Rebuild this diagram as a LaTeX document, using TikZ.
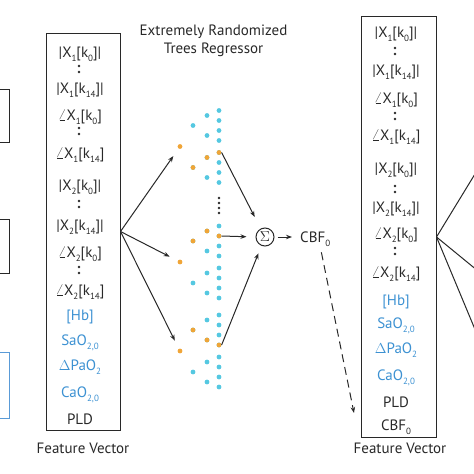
\documentclass[tikz,border=0pt]{standalone}
\usepackage{fontspec}
\setmainfont{PT Sans}
\usetikzlibrary{arrows.meta,calc,positioning}

\definecolor{inkgray}{RGB}{40,40,40}
\definecolor{fvblue}{RGB}{60,145,210}
\definecolor{boxblue}{RGB}{90,155,215}
\definecolor{leafcyan}{RGB}{85,200,225}
\definecolor{leaforange}{RGB}{240,165,55}

\newcommand{\fvsub}[1]{\raisebox{-0.55ex}{\fontsize{9}{9}\selectfont #1}}
\newcommand{\fvmag}[2]{|X\fvsub{#1}[k\fvsub{#2}]|}
\newcommand{\fvang}[2]{$\angle$X\fvsub{#1}[k\fvsub{#2}]}

\tikzset{
  fvbox/.style={draw=inkgray,line width=1pt,inner sep=0pt},
  fvitem/.style={font=\fontsize{15}{17}\selectfont,text=inkgray,anchor=base,inner sep=0pt},
  fvextra/.style={fvitem,text=fvblue},
  leaf/.style={circle,fill=leafcyan,inner sep=0pt,minimum size=4.8pt},
  hot/.style={leaf,fill=leaforange},
  flow/.style={-{Stealth[length=6pt,width=4.5pt]},line width=1pt,draw=inkgray}
}

\begin{document}
\begin{tikzpicture}[x=1pt,y=-1pt]
  \useasboundingbox (0,0) rectangle (474,474);
  \clip (0,0) rectangle (474,474);

  % cut-off boxes of the previous stage
  \draw[inkgray,line width=1pt] (-20,89) rectangle (9,142);
  \draw[inkgray,line width=1pt] (-20,219) rectangle (9,273);
  \draw[boxblue,line width=1pt] (-20,352) rectangle (9,418);

  % input feature vector
  \node[fvbox,minimum width=74pt,minimum height=397pt] (fv1) at (83,231.5) {};
  \foreach \y/\st/\txt [count=\i] in {57/fvitem/{\fvmag{1}{0}}, 93/fvitem/{\fvmag{1}{14}},
      120/fvitem/{\fvang{1}{0}}, 158/fvitem/{\fvang{1}{14}},
      190/fvitem/{\fvmag{2}{0}}, 230/fvitem/{\fvmag{2}{14}},
      257/fvitem/{\fvang{2}{0}}, 295/fvitem/{\fvang{2}{14}},
      320/fvextra/{[Hb]}, 345/fvextra/{SaO\fvsub{2,0}},
      370/fvextra/{$\Delta$PaO\fvsub{2}}, 397/fvextra/{CaO\fvsub{2,0}},
      424/fvitem/{PLD}}
    \node[\st] (in\i) at (80,\y) {\txt};
  \foreach \y in {69,131,204,270}
    \fill[inkgray] (79,\y-3) circle (1.4pt) (79,\y+3) circle (1.4pt);
  \node[fvitem] (in-lab) at (83,453) {Feature Vector};

  \node[font=\fontsize{15}{18}\selectfont,text=inkgray,align=center] (etr)
    at (213.5,41) {Extremely Randomized\\Trees Regressor};

  % trees: name/root y/child/grandchild/leaf of the orange path
  \foreach \t/\yo/\c/\g/\l in {a/146.5/21/-10/-5, b/262/-21/-10/5, c/351/-21/10/5}{
    \foreach \s in {-21,21}{
      \node[leaf] at (193,{\yo+(\s)}) {};
      \foreach \u in {-10,10}{
        \node[leaf] at (207,{\yo+(\s)+(\u)}) {};
        \foreach \v in {-5,5}
          \node[leaf] at (219,{\yo+(\s)+(\u)+(\v)}) {};
      }
    }
    \node[hot] (\t0) at (180,\yo) {};
    \node[hot] (\t1) at (193,{\yo+(\c)}) {};
    \node[hot] (\t2) at (207,{\yo+(\c)+(\g)}) {};
    \node[hot] (\t-out) at (219,{\yo+(\c)+(\g)+(\l)}) {};
  }
  \foreach \y in {198,203,208,213}
    \fill[inkgray] (219,\y) circle (1.3pt);

  \foreach \t in {a,b,c}
    \draw[flow,shorten >=9pt] (fv1.east) -- (\t0);

  \node[draw=inkgray,line width=1pt,circle,minimum size=18pt,inner sep=0pt,
    font=\fontsize{14}{14}\selectfont,text=inkgray] (sum) at (265,237) {$\Sigma$};
  \draw[flow,shorten >=13pt] (a-out.east) -- (sum);
  \draw[flow,shorten >=9pt] (b-out.east) -- (sum.west);
  \draw[flow,shorten >=8pt] (c-out.east) -- (sum);

  \node[fvitem,anchor=base west] (cbf) at (300,242) {CBF\fvsub{0}};
  \draw[flow,shorten <=3pt,shorten >=8pt] (sum.east) -- (sum.east -| cbf.west);

  % output feature vector
  \node[fvbox,minimum width=75pt,minimum height=421pt] (fv2) at (398.5,226.5) {};
  \foreach \y/\st/\txt [count=\i] in {37/fvitem/{\fvmag{1}{0}}, 75/fvitem/{\fvmag{1}{14}},
      103/fvitem/{\fvang{1}{0}}, 140/fvitem/{\fvang{1}{14}},
      173/fvitem/{\fvmag{2}{0}}, 212/fvitem/{\fvmag{2}{14}},
      238/fvitem/{\fvang{2}{0}}, 277/fvitem/{\fvang{2}{14}},
      305/fvextra/{[Hb]}, 328/fvextra/{SaO\fvsub{2,0}},
      353/fvextra/{$\Delta$PaO\fvsub{2}}, 380/fvextra/{CaO\fvsub{2,0}},
      407/fvitem/{PLD}, 430/fvitem/{CBF\fvsub{0}}}
    \node[\st] (out\i) at (396,\y) {\txt};
  \foreach \y in {51,116,189,251}
    \fill[inkgray] (395,\y-3) circle (1.4pt) (395,\y+3) circle (1.4pt);
  \node[fvitem] (out-lab) at (400,453) {Feature Vector};

  \coordinate (cbfin) at (354,413);
  \draw[flow,dashed,dash pattern=on 8pt off 5pt,shorten <=6pt] ([xshift=5pt]cbf.south) -- (cbfin);

  % links into the next stage
  \coordinate (nx1) at (490,149.4);
  \coordinate (nx2) at (490,280.8);
  \coordinate (nx3) at (490,365.4);
  \foreach \n in {nx1,nx2,nx3}
    \draw[inkgray,line width=1pt] ([yshift=-10.5pt]fv2.east) -- (\n);
\end{tikzpicture}
\end{document}
